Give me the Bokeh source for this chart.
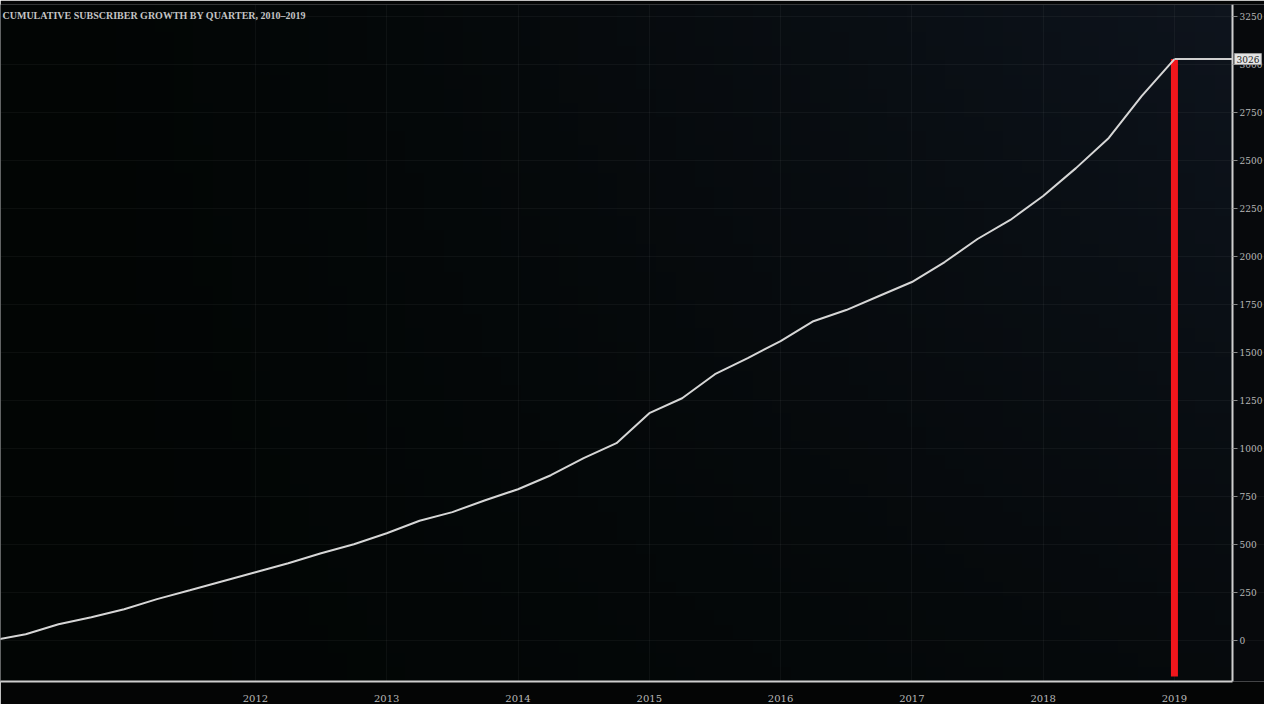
import numpy as np
from bokeh.plotting import figure
from bokeh.models import FixedTicker, Label, Range1d
from bokeh.embed import file_html
from bokeh.resources import INLINE

# ---- data ----
quarters = [2010 + 0.25 * i for i in range(37)]
values = [0, 31, 83, 120, 161, 214, 260, 307, 354, 401, 453, 500, 557, 622, 667,
          729, 786, 859, 948, 1026, 1182, 1260, 1385, 1469, 1557, 1661, 1719,
          1792, 1865, 1969, 2089, 2188, 2313, 2458, 2615, 2833, 3026]
x_ticks = [2012, 2013, 2014, 2015, 2016, 2017, 2018, 2019]
x_tick_labels = ["2012", "2013", "2014", "2015", "2016", "2017", "2018", "2019"]
y_ticks = [0, 250, 500, 750, 1000, 1250, 1500, 1750, 2000, 2250, 2500, 2750, 3000, 3250]
y_tick_labels = ["0", "250", "500", "750", "1000", "1250", "1500", "1750",
                 "2000", "2250", "2500", "2750", "3000", "3250"]
title_text = "CUMULATIVE SUBSCRIBER GROWTH BY QUARTER, 2010\u20132019"

x0, x_axis, x1 = 2010.058, 2019.442, 2019.686
y0, y1 = -215, 3310

p = figure(width=1264, height=704, output_backend="svg", toolbar_location=None,
           x_range=Range1d(x0, x1), y_range=Range1d(y0, y1),
           y_axis_location="right", min_border_left=0, min_border_top=4,
           min_border_bottom=22, min_border_right=0)
p.background_fill_color = "#07090c"
p.border_fill_color = "#040505"
p.outline_line_color = None

# background gradient (plot area up to the value axis)
nx, ny = 64, 48
gx = np.linspace(0, 1, nx)[None, :]
gy = np.linspace(0, 1, ny)[:, None]
w = np.clip((gx ** 1.3) * (0.35 + 0.65 * gy), 0, 1)
lo = np.array([2, 5, 4]); hi = np.array([14, 20, 29])
r = (lo[0] + (hi[0] - lo[0]) * w).astype(np.uint32)
g = (lo[1] + (hi[1] - lo[1]) * w).astype(np.uint32)
b = (lo[2] + (hi[2] - lo[2]) * w).astype(np.uint32)
img = (255 << 24) | (b << 16) | (g << 8) | r
p.image_rgba(image=[img.astype(np.uint32)], x=x0, y=y0, dw=x_axis - x0, dh=y1 - y0,
             level="image")

# grids
p.xgrid.ticker = FixedTicker(ticks=x_ticks)
p.ygrid.ticker = FixedTicker(ticks=y_ticks)
for gr in (p.xgrid, p.ygrid):
    gr.grid_line_color = "#ffffff"
    gr.grid_line_alpha = 0.045
    gr.grid_line_width = 1

# axes
xa = p.xaxis[0]
xa.ticker = FixedTicker(ticks=x_ticks)
xa.bounds = (x0, x_axis)
xa.major_label_overrides = {t: l for t, l in zip(x_ticks, x_tick_labels)}
xa.axis_line_color = "#cfcfcf"
xa.axis_line_width = 2
xa.major_tick_line_color = None
xa.minor_tick_line_color = None
xa.major_label_standoff = 7
xa.major_label_text_color = "#b8b8b8"
xa.major_label_text_font = "DejaVu Serif"
xa.major_label_text_font_size = "10px"

ya = p.yaxis[0]
ya.fixed_location = x_axis
ya.ticker = FixedTicker(ticks=y_ticks)
ya.major_label_overrides = {t: l for t, l in zip(y_ticks, y_tick_labels)}
ya.axis_line_color = "#cfcfcf"
ya.axis_line_width = 2
ya.major_tick_line_color = "#8a8a8a"
ya.major_tick_out = 5
ya.major_tick_in = 0
ya.minor_tick_line_color = None
ya.major_label_standoff = 2
ya.major_label_text_color = "#b8b8b8"
ya.major_label_text_font = "DejaVu Serif"
ya.major_label_text_font_size = "9px"

# marks
last_x, last_v = quarters[-1], values[-1]
p.segment(x0=[last_x], y0=[y0 + 26], x1=[last_x], y1=[last_v],
          line_color="#f0161c", line_width=7)
p.line(quarters, values, line_color="#d6d6d6", line_width=2)
p.segment(x0=[last_x], y0=[last_v], x1=[x_axis], y1=[last_v],
          line_color="#cfcfcf", line_width=2)

p.add_layout(Label(x=x_axis, y=last_v, text=f"{last_v}", text_align="left",
                   text_baseline="middle", x_offset=2,
                   text_font="DejaVu Serif", text_font_size="9px",
                   text_color="#1c1c1c", background_fill_color="#e4e4e4",
                   border_line_color="#9a9a9a", padding=2, level="overlay"))

p.add_layout(Label(x=x0, y=y1, text=title_text, text_align="left",
                   text_baseline="top", x_offset=2, y_offset=-5,
                   text_font="Liberation Serif", text_font_style="bold",
                   text_font_size="10px", text_color="#c4c4c4"))

open("out.html", "w").write(file_html(p, INLINE))
